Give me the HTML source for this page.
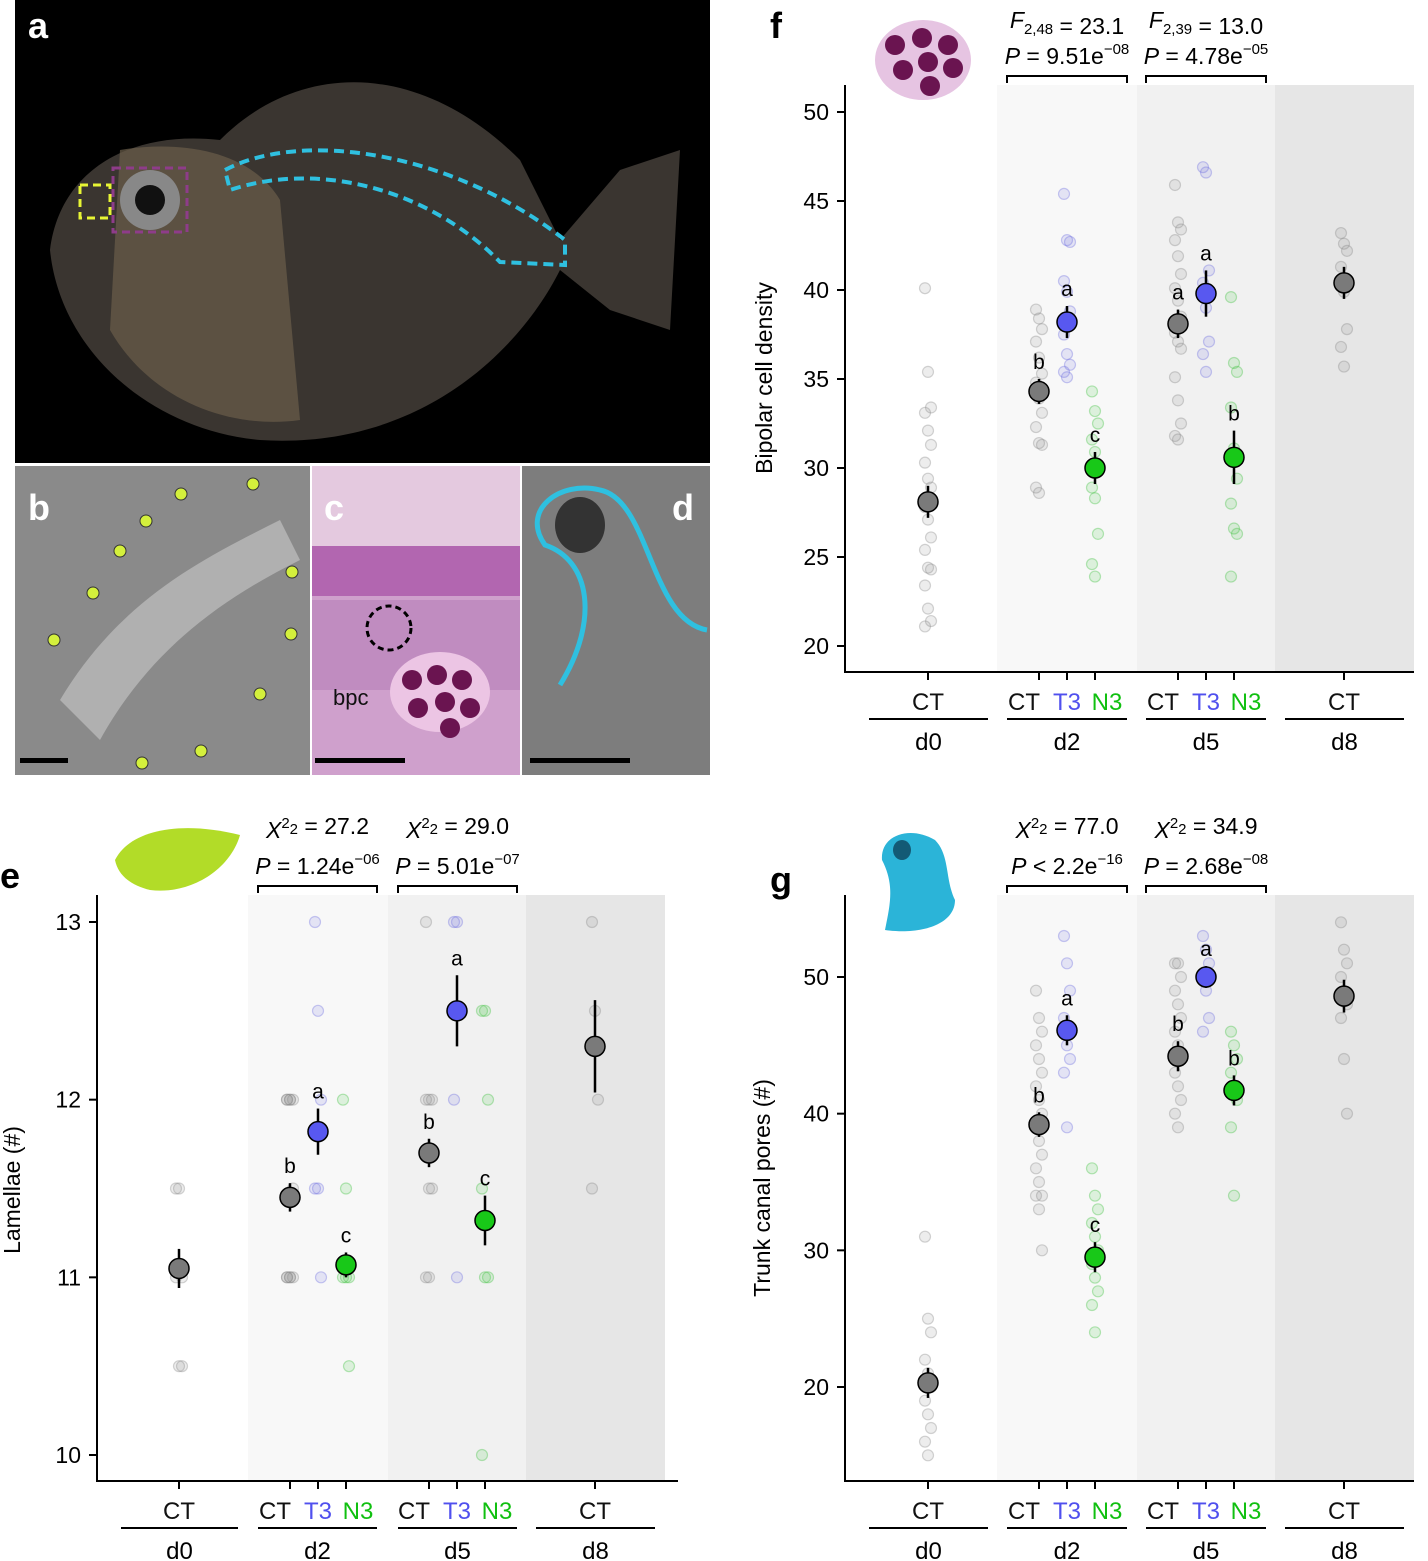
<!DOCTYPE html>
<html><head><meta charset="utf-8"><style>
body{margin:0;background:#fff}
svg{display:block;font-family:"Liberation Sans",Arial,sans-serif}
</style></head><body>
<svg id="fig" width="1428" height="1561" viewBox="0 0 1428 1561">
<g>
<rect x="15" y="0" width="695" height="463" fill="#000"/>
<path d="M50,250 C60,170 130,130 220,140 C300,60 420,60 520,160 L560,240 L620,170 L680,150 L670,330 L610,310 L560,270 C520,350 420,450 260,440 C150,430 60,350 50,250Z" fill="#3a3530"/>
<path d="M120,150 C180,140 250,150 280,200 L300,420 C230,430 150,400 110,330Z" fill="#6b5e4a" opacity="0.7"/>
<circle cx="150" cy="200" r="30" fill="#888"/><circle cx="150" cy="200" r="15" fill="#111"/>
<rect x="80" y="185" width="30" height="33" fill="none" stroke="#e7f534" stroke-width="3" stroke-dasharray="8,5"/>
<rect x="113" y="168" width="74" height="64" fill="none" stroke="#8e3c89" stroke-width="3" stroke-dasharray="8,5"/>
<path d="M225,170 C300,130 450,150 565,240 L565,265 L500,262 C430,190 320,160 230,190Z" fill="none" stroke="#2fc0e0" stroke-width="4" stroke-dasharray="10,6"/>
<text x="28" y="38" font-size="36" font-weight="bold" fill="#fff">a</text>
</g>
<g>
<rect x="15" y="466" width="295" height="309" fill="#8a8a8a"/>
<path d="M60,700 C120,600 200,560 280,520 L300,560 C220,600 150,650 100,740Z" fill="#b0b0b0"/>
<g fill="#d4f03c" stroke="#333" stroke-width="1">
<circle cx="181" cy="494" r="6"/><circle cx="253" cy="484" r="6"/><circle cx="146" cy="521" r="6"/><circle cx="120" cy="551" r="6"/><circle cx="292" cy="572" r="6"/><circle cx="93" cy="593" r="6"/><circle cx="291" cy="634" r="6"/><circle cx="54" cy="640" r="6"/><circle cx="260" cy="694" r="6"/><circle cx="201" cy="751" r="6"/><circle cx="142" cy="763" r="6"/></g>
<rect x="20" y="758" width="48" height="5" fill="#000"/>
<text x="28" y="520" font-size="36" font-weight="bold" fill="#fff">b</text>
</g>
<g>
<rect x="312" y="466" width="208" height="309" fill="#cfa0cc"/>
<rect x="312" y="466" width="208" height="80" fill="#e4c9df"/>
<rect x="312" y="546" width="208" height="50" fill="#b266b0"/>
<rect x="312" y="600" width="208" height="90" fill="#c08cc0"/>
<circle cx="389" cy="628" r="22" fill="none" stroke="#000" stroke-width="3" stroke-dasharray="6,4"/>
<ellipse cx="440" cy="692" rx="50" ry="40" fill="#ecc5e4"/>
<g fill="#6a1450"><circle cx="412" cy="680" r="10"/><circle cx="437" cy="675" r="10"/><circle cx="462" cy="680" r="10"/><circle cx="418" cy="708" r="10"/><circle cx="445" cy="702" r="10"/><circle cx="450" cy="728" r="10"/><circle cx="470" cy="708" r="10"/></g>
<text x="333" y="705" font-size="22" fill="#111">bpc</text>
<rect x="315" y="758" width="90" height="5" fill="#000"/>
<text x="324" y="520" font-size="36" font-weight="bold" fill="#fff">c</text>
</g>
<g>
<rect x="522" y="466" width="188" height="309" fill="#7d7d7d"/>
<ellipse cx="580" cy="525" rx="25" ry="28" fill="#333"/>
<path d="M560,685 C600,620 590,560 545,545 C520,510 560,480 600,490 C650,500 650,620 707,630" fill="none" stroke="#2fc0e0" stroke-width="5"/>
<rect x="530" y="758" width="100" height="5" fill="#000"/>
<text x="672" y="520" font-size="36" font-weight="bold" fill="#fff">d</text>
</g>
<text x="770" y="38" font-size="36" font-weight="bold">f</text>
<text x="0" y="888" font-size="36" font-weight="bold">e</text>
<text x="770" y="892" font-size="36" font-weight="bold">g</text>
<g>
<ellipse cx="923" cy="60" rx="48" ry="40" fill="#e6c4e2"/>
<g fill="#6a1450"><circle cx="895" cy="45" r="10"/><circle cx="922" cy="38" r="10"/><circle cx="948" cy="45" r="10"/><circle cx="903" cy="70" r="10"/><circle cx="928" cy="62" r="10"/><circle cx="930" cy="86" r="10"/><circle cx="953" cy="68" r="10"/></g></g>
<g>
<path d="M115,860 C130,830 180,820 240,835 C230,870 190,895 150,890 C130,885 118,875 115,860Z" fill="#b2dc28"/></g>
<g>
<path d="M882,860 C880,835 910,825 935,840 C950,855 945,880 955,900 C955,925 920,935 885,930 C890,905 895,885 882,860Z" fill="#2bb4d8"/>
<ellipse cx="902" cy="850" rx="9" ry="10" fill="#135a75"/></g>
</svg>
<script>
const fMeans=[28.1,34.3,38.2,30.0,38.1,39.8,30.6,40.4];
const fSE=[0.9,0.7,0.9,0.9,0.8,1.3,1.5,0.9];
const fLetters=["","b","a","c","a","a","b",""];
const fRaw=[
[40.1,35.4,33.4,33.1,32.1,31.3,30.3,29.4,28.9,27.8,27.1,26.1,25.4,24.4,24.3,23.4,22.1,21.4,21.1],
[38.9,38.4,37.8,37.1,36.2,35.3,34.8,33.9,33.1,32.3,31.4,31.3,28.9,28.6],
[45.4,42.8,42.7,40.5,39.9,38.8,37.5,36.4,35.8,35.4,35.1],
[34.3,33.2,32.5,31.6,30.9,29.8,28.9,28.3,26.3,24.6,23.9],
[45.9,43.8,43.4,42.8,41.9,40.9,40.1,39.4,38.5,37.6,37.1,36.7,35.1,33.8,32.5,31.8,31.6],
[46.9,46.6,41.1,40.4,39.0,37.1,36.4,35.4],
[39.6,35.9,35.4,33.4,31.1,29.4,28.0,26.6,26.3,23.9],
[43.2,42.6,42.2,41.3,39.9,37.8,36.8,35.7]];
const fTicks=[20,25,30,35,40,45,50];
const eMeans=[11.05,11.45,11.82,11.07,11.7,12.5,11.32,12.3];
const eSE=[0.11,0.08,0.13,0.07,0.08,0.2,0.14,0.26];
const eLetters=["","b","a","c","b","a","c",""];
const eRaw=[
[11.5,11.5,11,11,10.5,10.5],
[12,12,12,12,12,11.5,11,11,11,11,11],
[13,12.5,12,11.5,11.5,11],
[12,11.5,11,11,11,10.5],
[13,12,12,12,11.5,11.5,11,11],
[13,13,12.5,12,11],
[12.5,12.5,12,11.5,11,11,10],
[13,12.5,12,11.5]];
const eTicks=[10,11,12,13];
const gMeans=[20.3,39.2,46.1,29.5,44.2,50.0,41.7,48.6];
const gSE=[1.1,0.9,1.1,1.1,1.1,0.8,1.1,1.2];
const gLetters=["","b","a","c","b","a","b",""];
const gRaw=[
[31,25,24,22,21,20,19,18,17,16,15],
[49,47,46,45,44,43,42,41,40,39,38,37,36,35,34,34,33,30],
[53,51,49,47,45,44,43,39],
[36,34,33,32,31,30,29,28,27,26,24],
[51,51,50,49,48,47,46,45,44,43,42,41,40,39],
[53,52,51,50,49,47,46],
[46,45,44,43,42,41,39,34],
[54,52,51,50,49,48,47,44,40]];
const gTicks=[20,30,40,50];
const groupLabels=["CT","CT","T3","N3","CT","T3","N3","CT"];
const dayLabels=["d0","d2","d5","d8"];

const NS="http://www.w3.org/2000/svg";
const svg=document.getElementById('fig');
function mk(tag,attrs,parent){const e=document.createElementNS(NS,tag);for(const k in attrs)e.setAttribute(k,attrs[k]);(parent||svg).appendChild(e);return e;}
const fills=["#7a7a7a","#7a7a7a","#5858f0","#18c818","#7a7a7a","#5858f0","#18c818","#7a7a7a"];
const faint=["#888","#888","#6a6ae0","#3ac03a","#888","#6a6ae0","#3ac03a","#888"];
const labCol=["#111","#111","#5050ee","#10c010","#111","#5050ee","#10c010","#111"];
const labOff=[0,-15,0,12,-15,0,12,0];

function chart(L,means,se,letters,raw,ticks,title,stats){
  const g=mk('g',{});
  
  
  const y=v=>L.yTop+(L.vTop-v)*L.k;
  const xs=L.xs;
  const bc=["#f8f8f8","#f1f1f1","#e6e6e6"];
  for(let i=0;i<3;i++){const r=mk('rect',{x:L.bands[i],y:L.top,width:L.bands[i+1]-L.bands[i],height:L.bottom-L.top,fill:bc[i]},g);
    
    }
  const ax=mk('path',{d:`M${L.axX},${L.top} V${L.bottom} H${L.right}`,stroke:'#000','stroke-width':2,fill:'none'},g);
  
  
  ticks.forEach(t=>{
    mk('line',{x1:L.axX-8,x2:L.axX,y1:y(t),y2:y(t),stroke:'#000','stroke-width':2},g);
    const tx=mk('text',{x:L.axX-16,y:y(t)+8,'font-size':23,'text-anchor':'end'},g);
    tx.textContent=t;
    
    
  });
  xs.forEach(x=>mk('line',{x1:x,x2:x,y1:L.bottom,y2:L.bottom+8,stroke:'#000','stroke-width':2},g));
  const yt=mk('text',{transform:`translate(${L.titleX},${L.titleY}) rotate(-90)`,'font-size':23,'text-anchor':'middle'},g);
  yt.textContent=title;
  
  
  raw.forEach((arr,i)=>arr.forEach((v,j)=>{
    const c=mk('circle',{cx:xs[i]+((j%3)-1)*3,cy:y(v),r:5.5,fill:faint[i],'fill-opacity':0.15,stroke:faint[i],'stroke-opacity':0.35,'stroke-width':1.2},g);
    
    
  }));
  means.forEach((m,i)=>{
    const eb=mk('line',{x1:xs[i],x2:xs[i],y1:y(m+se[i]),y2:y(m-se[i]),stroke:'#000','stroke-width':2.5},g);
    
    
    const c=mk('circle',{cx:xs[i],cy:y(m),r:10,fill:fills[i],stroke:'#000','stroke-width':1.5},g);
    
    
    if(letters[i]){const t=mk('text',{x:xs[i],y:y(m+se[i])-10,'font-size':21,'text-anchor':'middle'},g);t.textContent=letters[i];
      
      }
  });
  xs.forEach((x,i)=>{const t=mk('text',{x:x+labOff[i],y:L.bottom+38,'font-size':24,'text-anchor':'middle',fill:labCol[i]},g);t.textContent=groupLabels[i];
    
    });
  L.under.forEach((u,i)=>{
    mk('line',{x1:u[0],x2:u[1],y1:L.bottom+47,y2:L.bottom+47,stroke:'#000','stroke-width':2},g);
    const t=mk('text',{x:(u[0]+u[1])/2,y:L.bottom+78,'font-size':24,'text-anchor':'middle'},g);t.textContent=dayLabels[i];
    
    
  });
  stats.forEach((s,i)=>{
    const u=L.under[i+1];
    mk('path',{d:`M${u[0]},${L.brY+7} V${L.brY} H${u[1]} V${L.brY+7}`,stroke:'#000','stroke-width':2,fill:'none'},g);
    const t1=mk('text',{x:(u[0]+u[1])/2,y:L.brY-48,'font-size':23,'text-anchor':'middle'},g);
    t1.innerHTML=s[0];
    
    
    const t2=mk('text',{x:(u[0]+u[1])/2,y:L.brY-12,'font-size':23,'text-anchor':'middle'},g);
    t2.innerHTML=s[1];
    
    
  });
}
const sub=s=>`<tspan font-size="15" dy="6">${s}</tspan><tspan dy="-6"></tspan>`;
const sup=s=>`<tspan font-size="15" dy="-10">${s}</tspan><tspan dy="10"></tspan>`;
const X2=`<tspan font-style="italic">X</tspan>${sup('2')}${sub('2')}`;
const P=`<tspan font-style="italic">P</tspan>`;
const xsR=[928,1039,1067,1095,1178,1206,1234,1344];
const underR=[[869,988],[1007,1127],[1146,1266],[1285,1404]];
chart({name:'chart-f-bipolar',yTop:112,vTop:50,k:534/30,top:85,bottom:672,axX:845,right:1414,bands:[997,1137,1275,1414],xs:xsR,under:underR,titleX:772,titleY:378,brY:76},
 fMeans,fSE,fLetters,fRaw,fTicks,'Bipolar cell density',
 [[`<tspan font-style="italic">F</tspan>${sub('2,48')} = 23.1`,`${P} = 9.51e${sup('−08')}`],[`<tspan font-style="italic">F</tspan>${sub('2,39')} = 13.0`,`${P} = 4.78e${sup('−05')}`]]);
chart({name:'chart-e-lamellae',yTop:922,vTop:13,k:533/3,top:895,bottom:1481,axX:97,right:678,bands:[248,388,526,665],xs:[179,290,318,346,429,457,485,595],under:[[121,238],[258,377],[398,517],[536,655]],titleX:20,titleY:1190,brY:886},
 eMeans,eSE,eLetters,eRaw,eTicks,'Lamellae (#)',
 [[`${X2} = 27.2`,`${P} = 1.24e${sup('−06')}`],[`${X2} = 29.0`,`${P} = 5.01e${sup('−07')}`]]);
chart({name:'chart-g-pores',yTop:977,vTop:50,k:410/30,top:895,bottom:1481,axX:845,right:1414,bands:[997,1137,1275,1414],xs:xsR,under:underR,titleX:770,titleY:1188,brY:886},
 gMeans,gSE,gLetters,gRaw,gTicks,'Trunk canal pores (#)',
 [[`${X2} = 77.0`,`${P} &lt; 2.2e${sup('−16')}`],[`${X2} = 34.9`,`${P} = 2.68e${sup('−08')}`]]);
</script>
</body></html>
